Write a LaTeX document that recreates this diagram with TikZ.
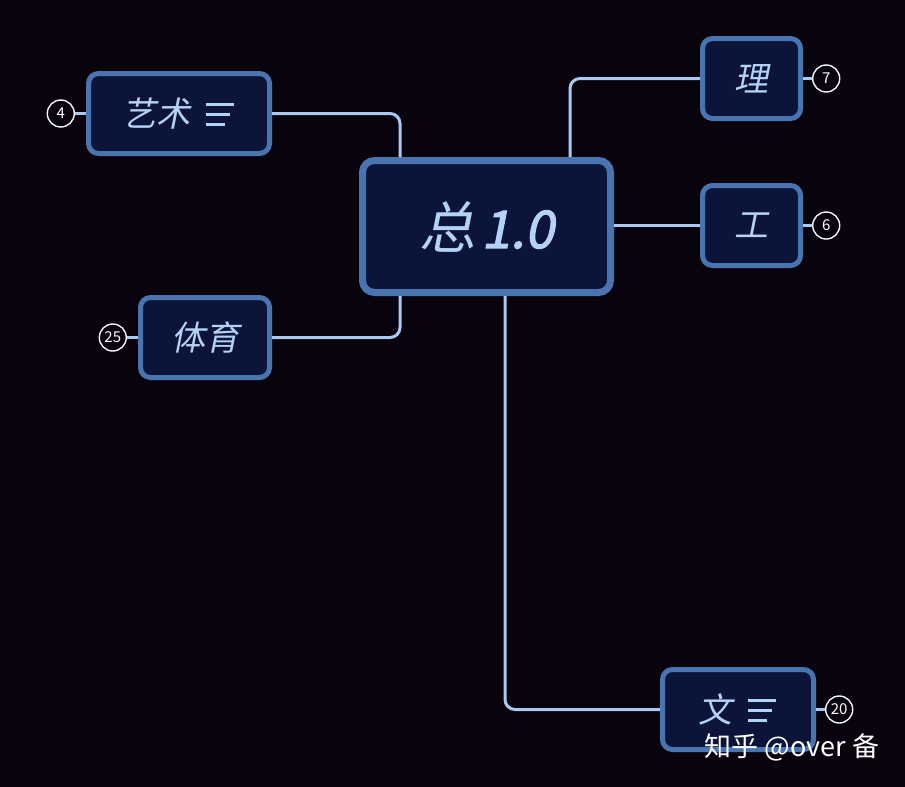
\documentclass[tikz,border=0pt]{standalone}
\usepackage{fontspec}
\newfontfamily\cjk[FakeSlant=0.2]{Noto Sans CJK SC}
\newfontfamily\cjkup{Noto Sans CJK SC}
\newfontfamily\cjkbf[FakeSlant=0.2,FakeBold=2]{Noto Sans CJK SC}
\usetikzlibrary{positioning}
\definecolor{bgdark}{HTML}{08030D}
\definecolor{boxfill}{HTML}{0C1539}
\definecolor{boxline}{HTML}{4A74B0}
\definecolor{linkblue}{HTML}{A9C9F1}
\definecolor{txtblue}{HTML}{B4D2F5}
\newcommand{\listicon}{\tikz[x=1pt,y=1pt,baseline=-22pt]{\draw[txtblue,line width=3pt] (0,0) -- (28,0) (0,-10) -- (24,-10) (0,-20) -- (19,-20);}}
\begin{document}
\begin{tikzpicture}[x=1pt,y=-1pt,
    topicbox/.style={draw=boxline, fill=boxfill, line width=7pt, rounded corners=12pt,
      minimum width=248pt, minimum height=132pt, text=txtblue},
    branchbox/.style={draw=boxline, fill=boxfill, line width=5pt, rounded corners=10pt,
      minimum height=80pt, text=txtblue, font=\cjk\fontsize{34}{40}\selectfont},
    badge/.style={circle, draw=white!85!linkblue, line width=1.4pt, minimum size=27pt,
      inner sep=0pt, text=white, font=\cjkup\fontsize{15}{17}\selectfont},
    link/.style={draw=linkblue, line width=3pt, rounded corners=10pt}]
  \fill[bgdark] (0,0) rectangle (905,787);
  \useasboundingbox (0,0) rectangle (905,787);

  % central topic
  \node[topicbox] (total) at (486.5,226.5)
    {{\cjk\fontsize{56}{60}\selectfont 总}\hspace{6pt}{\cjkbf\fontsize{52}{60}\selectfont 1.0}};

  % branches
  \node[branchbox, minimum width=181pt] (art) at (179,113.5) {艺术\hspace{14pt}\listicon};
  \node[branchbox, minimum width=129pt] (sport) at (205,337.5) {体育};
  \node[branchbox, minimum width=98pt] (li) at (751.5,78.5) {理};
  \node[branchbox, minimum width=98pt] (gong) at (751.5,225.5) {工};
  \node[branchbox, minimum width=151pt] (wen) at (738,709.5) {文\hspace{14pt}\listicon};

  % counters
  \node[badge, left=11pt of art] (artn) {4};
  \node[badge, left=11pt of sport] (sportn) {25};
  \node[badge, right=9pt of li] (lin) {7};
  \node[badge, right=9pt of gong] (gongn) {6};
  \node[badge, right=9pt of wen] (wenn) {20};

  \draw[link] (art.east) -| ([xshift=-86.5pt]total.north);
  \draw[link] (sport.east) -| ([xshift=-86.5pt]total.south);
  \draw[link] ([xshift=83.5pt]total.north) |- (li.west);
  \draw[link] (total.east |- gong.west) -- (gong.west);
  \draw[link] ([xshift=18.5pt]total.south) |- (wen.west);

  \draw[link] (art.west) -- (artn.east);
  \draw[link] (sport.west) -- (sportn.east);
  \draw[link] (li.east) -- (lin.west);
  \draw[link] (gong.east) -- (gongn.west);
  \draw[link] (wen.east) -- (wenn.west);

  \node[text=white, font=\cjkup\fontsize{27}{30}\selectfont] (mark) at (792,747) {知乎 @over 备};
\end{tikzpicture}
\end{document}
